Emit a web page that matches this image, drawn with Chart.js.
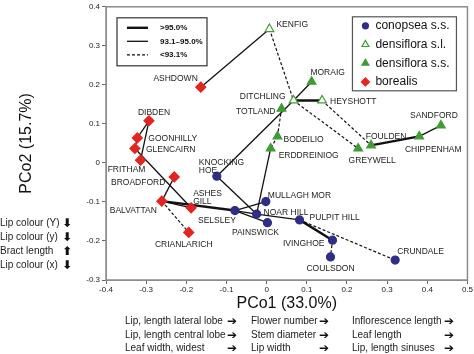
<!DOCTYPE html>
<html lang="en">
<head>
<meta charset="UTF-8">
<title>PCo ordination of populations</title>
<script src="https://cdn.jsdelivr.net/npm/chart.js"></script>
<style>
  body { margin: 0; background: #fff; }
  #wrap { position: relative; width: 474px; height: 354px; font-family: "Liberation Sans", Arial, sans-serif; color: #222; }
  .note { position: absolute; font-size: 10px; line-height: 12px; white-space: nowrap; }
  .arrow { position: absolute; font-family: "DejaVu Sans", sans-serif; font-size: 12px; font-weight: bold; line-height: 12px; color: #111; }
</style>
</head>
<body>
<div id="wrap">
  <canvas id="pcoChart" width="474" height="354"></canvas>
</div>
<script>
// PCo1 / PCo2 scores per population
const conopseaNames = ['KNOCKING\nHOE', 'SELSLEY', 'MULLAGH MOR', 'NOAR HILL', 'PAINSWICK', 'PULPIT HILL', 'IVINGHOE', 'COULSDON', 'CRUNDALE'];
const conopseaX = [-0.124, -0.079, -0.002, -0.025, 0.002, 0.082, 0.164, 0.159, 0.320];
const conopseaY = [-0.034, -0.122, -0.099, -0.131, -0.153, -0.146, -0.198, -0.241, -0.249];

const densSlNames = ['KENFIG', 'DITCHLING', 'HEYSHOTT'];
const densSlX = [0.007, 0.067, 0.138];
const densSlY = [0.343, 0.160, 0.160];

const densSsNames = ['MORAIG', 'TOTLAND', 'BODEILIO', 'ERDDREINIOG', 'GREYWELL', 'FOULDEN', 'CHIPPENHAM', 'SANDFORD'];
const densSsX = [0.112, 0.037, 0.027, 0.010, 0.228, 0.260, 0.380, 0.434];
const densSsY = [0.208, 0.139, 0.068, 0.037, 0.037, 0.045, 0.068, 0.096];

const borealisNames = ['ASHDOWN', 'DIBDEN', 'GOONHILLY', 'GLENCAIRN', 'FRITHAM', 'BROADFORD', 'ASHES\nGILL', 'BALVATTAN', 'CRIANLARICH'];
const borealisX = [-0.164, -0.293, -0.322, -0.328, -0.314, -0.230, -0.188, -0.261, -0.194];
const borealisY = [0.194, 0.108, 0.064, 0.037, 0.007, -0.036, -0.115, -0.098, -0.178];

// network links by support class
const linksHigh = [['DITCHLING', 'HEYSHOTT'], ['FOULDEN', 'CHIPPENHAM'], ['BALVATTAN', 'SELSLEY'], ['PULPIT HILL', 'IVINGHOE']];
const linksMid = [
  ['ASHDOWN', 'KENFIG'], ['DITCHLING', 'MORAIG'], ['DITCHLING', 'KNOCKING\nHOE'], ['CHIPPENHAM', 'SANDFORD'],
  ['DIBDEN', 'GOONHILLY'], ['DIBDEN', 'FRITHAM'], ['GOONHILLY', 'GLENCAIRN'], ['GLENCAIRN', 'ASHES\nGILL'],
  ['BROADFORD', 'BALVATTAN'], ['BALVATTAN', 'ASHES\nGILL'], ['ERDDREINIOG', 'NOAR HILL'], ['KNOCKING\nHOE', 'NOAR HILL'],
  ['SELSLEY', 'MULLAGH MOR'], ['SELSLEY', 'NOAR HILL'], ['SELSLEY', 'PAINSWICK'], ['NOAR HILL', 'PULPIT HILL']
];
const linksLow = [
  ['KENFIG', 'DITCHLING'], ['DITCHLING', 'GREYWELL'], ['HEYSHOTT', 'FOULDEN'], ['TOTLAND', 'BODEILIO'],
  ['BODEILIO', 'ERDDREINIOG'], ['BALVATTAN', 'CRIANLARICH'], ['PULPIT HILL', 'CRUNDALE'], ['IVINGHOE', 'COULSDON']
];

const linkClasses = ['>95.0%', '93.1\u201395.0%', '<93.1%'];
const groupLabels = ['conopsea s.s.', 'densiflora s.l.', 'densiflora s.s.', 'borealis'];

const pco2Notes = ['Lip colour (Y)', 'Lip colour (y)', 'Bract length', 'Lip colour (x)'];
const pco2Arrows = ['\u2B07', '\u2B07', '\u2B06', '\u2B07'];
const pco1Notes = [
  ['Lip, length lateral lobe', 'Lip, length central lobe', 'Leaf width, widest'],
  ['Flower number', 'Stem diameter', 'Lip width'],
  ['Inflorescence length', 'Leaf length', 'Lip, length sinuses']
];

// label placement relative to each point: [dx, dy, align]
const labelPlace = {
  'ASHDOWN': [-3, -9, 'right'], 'DIBDEN': [5, -8, 'center'], 'GOONHILLY': [11, 1, 'left'],
  'GLENCAIRN': [11, 1, 'left'], 'FRITHAM': [-14, 9, 'center'], 'BROADFORD': [-9, 6, 'right'],
  'ASHES\nGILL': [2, -14, 'left'], 'BALVATTAN': [-5, 9, 'right'], 'CRIANLARICH': [-5, 12, 'center'],
  'KNOCKING\nHOE': [-18, -14, 'left'], 'SELSLEY': [-18, 10, 'center'], 'MULLAGH MOR': [2, -6, 'left'],
  'NOAR HILL': [7, -1, 'left'], 'PAINSWICK': [-12, 10, 'center'], 'PULPIT HILL': [10, -2, 'left'],
  'IVINGHOE': [-8, 3, 'right'], 'COULSDON': [0, 12, 'center'], 'CRUNDALE': [2, -8, 'left'],
  'KENFIG': [7, -4, 'left'], 'MORAIG': [16, -9, 'center'], 'DITCHLING': [-8, -4, 'right'],
  'TOTLAND': [-6, 3, 'right'], 'HEYSHOTT': [8, 1, 'left'], 'BODEILIO': [6, 3, 'left'],
  'ERDDREINIOG': [8, 7, 'left'], 'GREYWELL': [14, 12, 'center'], 'FOULDEN': [15, -9, 'center'],
  'CHIPPENHAM': [14, 13, 'center'], 'SANDFORD': [-7, -10, 'center']
};

const NAVY = '#2f2d86', GREEN = '#3f9c34', RED = '#e3241f';

function toPoints(xs, ys) {
  return xs.map((x, i) => ({ x: x, y: ys[i] }));
}

const groups = [
  { label: groupLabels[0], names: conopseaNames, data: toPoints(conopseaX, conopseaY),
    style: { pointStyle: 'circle', radius: 4, fill: NAVY, stroke: NAVY } },
  { label: groupLabels[1], names: densSlNames, data: toPoints(densSlX, densSlY),
    style: { pointStyle: 'triangle', radius: 5, fill: '#fff', stroke: GREEN } },
  { label: groupLabels[2], names: densSsNames, data: toPoints(densSsX, densSsY),
    style: { pointStyle: 'triangle', radius: 5, fill: GREEN, stroke: GREEN } },
  { label: groupLabels[3], names: borealisNames, data: toPoints(borealisX, borealisY),
    style: { pointStyle: 'rectRot', radius: 5, fill: RED, stroke: RED } }
];

const lookup = {};
groups.forEach(g => g.names.forEach((n, i) => { lookup[n] = g.data[i]; }));

const linkStyles = [
  { width: 2.4, dash: [] },
  { width: 1.3, dash: [] },
  { width: 1.2, dash: [3, 2] }
];

const datasets = [];
groups.forEach(g => {
  datasets.push({
    label: g.label, data: g.data, order: 1,
    pointStyle: g.style.pointStyle, pointRadius: g.style.radius,
    backgroundColor: g.style.fill, borderColor: g.style.stroke, borderWidth: 1.2
  });
});
[linksHigh, linksMid, linksLow].forEach((links, k) => {
  links.forEach(pair => {
    datasets.push({
      data: [lookup[pair[0]], lookup[pair[1]]], showLine: true, order: 2,
      pointRadius: 0, borderColor: '#111', borderWidth: linkStyles[k].width, borderDash: linkStyles[k].dash
    });
  });
});

const decorations = {
  id: 'decorations',
  afterDatasetsDraw(chart) {
    const ctx = chart.ctx, xs = chart.scales.x, ys = chart.scales.y, area = chart.chartArea;
    ctx.save();
    // frame
    ctx.strokeStyle = '#8c8c8c';
    ctx.lineWidth = 1.5;
    ctx.strokeRect(area.left, area.top, area.right - area.left, area.bottom - area.top);

    // point labels
    ctx.fillStyle = '#222';
    ctx.font = '8.5px "Liberation Sans", Arial, sans-serif';
    ctx.textBaseline = 'middle';
    groups.forEach(g => g.names.forEach((n, i) => {
      const p = labelPlace[n];
      const px = xs.getPixelForValue(g.data[i].x), py = ys.getPixelForValue(g.data[i].y);
      ctx.textAlign = p[2];
      n.split('\n').forEach((line, j) => ctx.fillText(line, px + p[0], py + p[1] + j * 8));
    }));

    // link class legend
    ctx.strokeStyle = '#333';
    ctx.lineWidth = 1.2;
    ctx.strokeRect(area.left + 11, area.top + 11, 90, 48);
    ctx.font = 'bold 8px "Liberation Sans", Arial, sans-serif';
    ctx.textAlign = 'left';
    linkClasses.forEach((t, i) => {
      const y = area.top + 21 + i * 13.5;
      ctx.strokeStyle = '#111';
      ctx.lineWidth = linkStyles[i].width;
      ctx.setLineDash(linkStyles[i].dash);
      ctx.beginPath();
      ctx.moveTo(area.left + 21, y);
      ctx.lineTo(area.left + 42, y);
      ctx.stroke();
      ctx.setLineDash([]);
      ctx.fillStyle = '#111';
      ctx.fillText(t, area.left + 54, y);
    });

    // group legend
    ctx.strokeStyle = '#555';
    ctx.lineWidth = 1.2;
    ctx.strokeRect(area.right - 115, area.top + 10, 104, 74);
    ctx.font = '12px "Liberation Sans", Arial, sans-serif';
    groups.forEach((g, i) => {
      const y = area.top + 19 + i * 18.7;
      ctx.fillStyle = g.style.fill;
      ctx.strokeStyle = g.style.stroke;
      ctx.lineWidth = 1.2;
      Chart.helpers.drawPoint(ctx, { pointStyle: g.style.pointStyle, radius: g.style.radius - 1, rotation: 0, borderWidth: 1.2 },
        area.right - 102, y);
      ctx.fillStyle = '#111';
      ctx.fillText(g.label, area.right - 92, y);
    });
    ctx.restore();
  }
};

new Chart(document.getElementById('pcoChart'), {
  type: 'scatter',
  data: { datasets: datasets },
  options: {
    responsive: false,
    animation: false,
    layout: { padding: { left: 0, right: 4, top: 4, bottom: 40 } },
    plugins: { legend: { display: false }, tooltip: { enabled: false } },
    scales: {
      x: {
        min: -0.4, max: 0.5,
        ticks: { stepSize: 0.1, padding: 1, color: '#222', font: { size: 8, family: '"Liberation Sans", Arial' } },
        grid: { drawOnChartArea: false, tickLength: 4, color: '#666' },
        border: { color: '#8c8c8c' },
        title: { display: true, text: 'PCo1 (33.0%)', color: '#111', padding: { top: 0, bottom: 1 },
          font: { size: 16, family: '"Liberation Sans", Arial' } },
        afterFit(scale) { scale.height = 34; }
      },
      y: {
        min: -0.3, max: 0.4,
        ticks: { stepSize: 0.1, padding: 2, color: '#222', font: { size: 8, family: '"Liberation Sans", Arial' } },
        grid: { drawOnChartArea: false, tickLength: 4, color: '#666' },
        border: { color: '#8c8c8c' },
        title: { display: true, text: 'PCo2 (15.7%)', color: '#111', padding: { top: 17, bottom: 0 },
          font: { size: 16, family: '"Liberation Sans", Arial' } },
        afterFit(scale) { scale.width = 106; }
      }
    }
  },
  plugins: [decorations]
});

// loading notes beside the axes
const wrap = document.getElementById('wrap');
function addNote(text, x, y, cls) {
  const el = document.createElement('div');
  el.className = cls;
  el.textContent = text;
  el.style.left = x + 'px';
  el.style.top = y + 'px';
  wrap.appendChild(el);
}
pco2Notes.forEach((t, i) => {
  addNote(t, 0, 217 + i * 14, 'note');
  addNote(pco2Arrows[i], 62, 217 + i * 14, 'arrow');
});
const colX = [125, 251, 352], arrowX = [227, 319, 444];
pco1Notes.forEach((col, c) => col.forEach((t, r) => {
  addNote(t, colX[c], 315 + r * 13.5, 'note');
  addNote('\u2794', arrowX[c], 315 + r * 13.5, 'arrow');
}));
</script>
</body>
</html>
